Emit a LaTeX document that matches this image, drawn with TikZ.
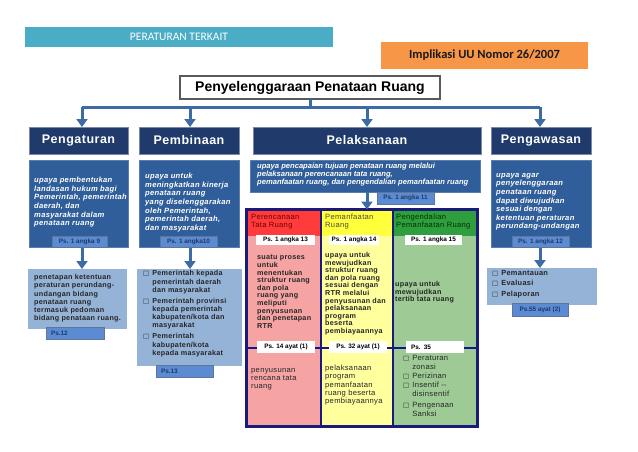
\documentclass[tikz,border=0pt]{standalone}
\usepackage{fontspec}
\setmainfont{Liberation Sans}
\newfontfamily\widefont[LetterSpace=4]{Liberation Sans}
\newfontfamily\calibrifont{Carlito}
\newfontfamily\boxfont{DejaVu Sans}
\usetikzlibrary{arrows.meta,positioning}

\definecolor{navyhead}{HTML}{1F3A6B}
\definecolor{descblue}{HTML}{305E9A}
\definecolor{tagblue}{HTML}{5B8BD2}
\definecolor{lowblue}{HTML}{95B3D7}
\definecolor{arrowblue}{HTML}{3D6BA6}
\definecolor{bannerteal}{HTML}{4BACC6}
\definecolor{orng}{HTML}{F79646}
\definecolor{tblnavy}{HTML}{1A1A7A}
\definecolor{redhead}{HTML}{FF3B3B}
\definecolor{redbody}{HTML}{F5A3A3}
\definecolor{yelhead}{HTML}{FFFF3C}
\definecolor{yelbody}{HTML}{FFFF9E}
\definecolor{grnhead}{HTML}{2F9E3E}
\definecolor{grnbody}{HTML}{9ECB95}

\newcommand{\sqb}{{\boxfont\fontsize{6.5}{6.5}\selectfont □}}

\tikzset{
  plainbox/.style={anchor=north west, inner sep=0pt, outer sep=0pt},
  headbox/.style={plainbox, fill=navyhead, draw=navyhead!60!white, line width=0.6pt, text=white,
    font=\widefont\bfseries\fontsize{12.5}{14}\selectfont, minimum height=27pt},
  descbox/.style={plainbox, fill=descblue, draw=descblue!80!white, line width=0.4pt},
  desctext/.style={anchor=north west, inner sep=0pt, align=left, text=white,
    font=\widefont\bfseries\itshape\fontsize{7.6}{8.6}\selectfont},
  tagbox/.style={plainbox, fill=tagblue, draw=navyhead!70!white, line width=0.4pt, text=navyhead,
    minimum height=11pt, font=\bfseries\fontsize{6.4}{6.5}\selectfont},
  wtag/.style={plainbox, fill=white, text=black, minimum height=10pt,
    font=\bfseries\fontsize{6.4}{6.5}\selectfont},
  lowbox/.style={plainbox, fill=lowblue},
  lowtext/.style={anchor=north west, inner sep=0pt, align=left, text=black!85,
    font=\widefont\bfseries\fontsize{7.2}{8.3}\selectfont},
  celltext/.style={anchor=north west, inner sep=0pt, align=left, font=\widefont\fontsize{7.6}{8.2}\selectfont},
  arr/.style={draw=arrowblue, line width=3pt, -{Triangle[width=11pt,length=8pt]}},
  bus/.style={draw=arrowblue, line width=3pt}
}

\begin{document}
\begin{tikzpicture}[x=1pt,y=-1pt]
\useasboundingbox[fill=white] (0,0) rectangle (638,451);

% title boxes
\node[plainbox, fill=bannerteal, minimum width=308pt, minimum height=20pt, text=white,
  font=\calibrifont\fontsize{11.5}{12}\selectfont] (banner) at (25,27) {PERATURAN TERKAIT};
\node[plainbox, fill=orng, minimum width=207pt, minimum height=27pt, text=black!90,
  font=\calibrifont\bfseries\fontsize{12.5}{14}\selectfont] (uu) at (381,42) {Implikasi UU Nomor 26/2007};
\node[plainbox, fill=white, draw=black!65, line width=1.2pt, minimum width=260pt, minimum height=23pt,
  font=\bfseries\fontsize{14}{16}\selectfont] (main) at (180,76) {Penyelenggaraan Penataan Ruang};

% headers
\node[headbox, minimum width=99pt] (hAtur) at (29,127) {Pengaturan};
\node[headbox, minimum width=100pt] (hBina) at (139,127) {Pembinaan};
\node[headbox, minimum width=228pt] (hLaks) at (253,127) {Pelaksanaan};
\node[headbox, minimum width=100pt] (hAwas) at (491,127) {Pengawasan};

% bus from the main box
\coordinate (hub) at (310,107);
\coordinate (busA) at (82,107);
\coordinate (busB) at (190,107);
\coordinate (busC) at (367,107);
\coordinate (busD) at (540,107);
\draw[bus] (main.south) -- (hub);
\draw[bus] (busA) -- (busD);
\draw[arr] (busA) -- (busA |- hAtur.north);
\draw[arr] (busB) -- (busB |- hBina.north);
\draw[arr] (busC) -- (busC |- hLaks.north);
\draw[arr] (busD) -- (busD |- hAwas.north);

% definitions
\node[descbox, minimum width=99pt, minimum height=87pt] (dAtur) at (29,160) {};
\node[descbox, minimum width=100pt, minimum height=87pt] (dBina) at (139,160) {};
\node[descbox, minimum width=230pt, minimum height=32pt] (dLaks) at (250,160) {};
\node[descbox, minimum width=100pt, minimum height=87pt] (dAwas) at (491,160) {};

\node[desctext] (xAtur) at (34,177) {upaya pembentukan\\landasan hukum bagi\\Pemerintah, pemerintah\\daerah, dan\\masyarakat dalam\\penataan ruang};
\node[desctext] (xBina) at (145,173) {upaya untuk\\meningkatkan kinerja\\penataan ruang\\yang diselenggarakan\\oleh Pemerintah,\\pemerintah daerah,\\dan masyarakat};
\node[desctext, font=\bfseries\itshape\fontsize{7.6}{8.1}\selectfont] (xLaks) at (257,163) {upaya pencapaian tujuan penataan ruang melalui\\pelaksanaan perencanaan tata ruang,\\pemanfaatan ruang, dan pengendalian pemanfaatan ruang};
\node[desctext] (xAwas) at (496,173) {upaya agar\\penyelenggaraan\\penataan ruang\\dapat diwujudkan\\sesuai dengan\\ketentuan peraturan\\perundang-undangan};

% lower boxes
\node[lowbox, minimum width=99pt, minimum height=60pt] (lAtur) at (28,269) {};
\node[lowbox, minimum width=105pt, minimum height=97pt] (lBina) at (137,269) {};
\node[lowbox, minimum width=110pt, minimum height=37pt] (lAwas) at (487,268) {};

\draw[arr] ([xshift=3.5pt]dAtur.south) -- ([xshift=3.5pt]dAtur.south |- lAtur.north);
\draw[arr] ([xshift=1pt]dBina.south) -- ([xshift=1pt]dBina.south |- lBina.north);
\draw[arr] ([xshift=-1pt]dAwas.south) -- ([xshift=-1pt]dAwas.south |- lAwas.north);

\node[lowtext] (yAtur) at (34,274) {penetapan ketentuan\\peraturan perundang-\\undangan bidang\\penataan ruang\\termasuk pedoman\\bidang penataan ruang.};
\node[lowtext, font=\widefont\bfseries\fontsize{7.2}{8.2}\selectfont] (yBina) at (143,270) {%
  \begin{tabular}{@{}l@{\hspace{3pt}}l@{}}
  \sqb & Pemerintah kepada\\
      & pemerintah daerah\\
      & dan masyarakat\\[2.8pt]
  \sqb & Pemerintah provinsi\\
      & kepada pemerintah\\
      & kabupaten/kota dan\\
      & masyarakat\\[2.8pt]
  \sqb & Pemerintah\\
      & kabupaten/kota\\
      & kepada masyarakat
  \end{tabular}};
\node[lowtext, font=\widefont\bfseries\fontsize{7.4}{10.4}\selectfont] (yAwas) at (492,268) {%
  \begin{tabular}{@{}l@{\hspace{3pt}}l@{}}
  \sqb & Pemantauan\\
  \sqb & Evaluasi\\
  \sqb & Pelaporan
  \end{tabular}};

% tags
\node[tagbox, minimum width=55pt] (tAtur) at (52,236) {Ps. 1 angka 9};
\node[tagbox, minimum width=57pt] (tBina) at (160,236) {Ps. 1 angka10};
\node[tagbox, minimum width=57pt] (tAwas) at (512,236) {Ps. 1 angka 12};
\node[tagbox, text width=48pt, inner xsep=5pt, align=left, minimum height=12pt] (tLow1) at (46,327) {Ps.12};
\node[tagbox, text width=47pt, inner xsep=5pt, align=left, minimum height=12pt] (tLow2) at (156,365) {Ps.13};
\node[tagbox, minimum width=56pt, minimum height=13pt] (tLow3) at (512,303) {Ps.55 ayat (2)};

% implementation table
\node[plainbox, fill=redhead, minimum width=74pt, minimum height=26pt] (redH) at (247,210) {};
\node[plainbox, fill=redbody, minimum width=74pt, minimum height=190pt] (redB) at (247,236) {};
\node[plainbox, fill=yelhead, minimum width=72pt, minimum height=26pt] (yelH) at (321,210) {};
\node[plainbox, fill=yelbody, minimum width=72pt, minimum height=190pt] (yelB) at (321,236) {};
\node[plainbox, fill=grnhead, minimum width=84pt, minimum height=26pt] (grnH) at (393,210) {};
\node[plainbox, fill=grnbody, minimum width=84pt, minimum height=190pt] (grnB) at (393,236) {};
\draw[tblnavy, line width=1.6pt] (yelH.north west) -- (yelB.south west);
\draw[tblnavy, line width=1.6pt] (grnH.north west) -- (grnB.south west);
\coordinate (midL) at (247,348);
\coordinate (midR) at (477,348);
\draw[tblnavy!80!blue, line width=1.2pt] (midL) -- (midR);
\node[plainbox, draw=tblnavy, line width=3pt, minimum width=231pt, minimum height=217pt] (tbl) at (246.5,209.5) {};

\draw[arr] ([xshift=2pt]dLaks.south) -- ([xshift=2pt]dLaks.south |- tbl.north);
\node[tagbox, minimum width=57pt, minimum height=12pt] (tLaks) at (377,192) {Ps. 1 angka 11};

\node[celltext, text=red!45!black] (cRed) at (251,214) {Perencanaan\\Tata Ruang};
\node[celltext, text=black!80!yellow] (cYel) at (325,214) {Pemanfaatan\\Ruang};
\node[celltext, text=green!20!black] (cGrn) at (396,214) {Pengendalian\\Pemanfaatan Ruang};

\node[wtag, minimum width=59pt] (w1) at (256,235) {Ps. 1 angka 13};
\node[wtag, minimum width=50pt] (w2) at (329,235) {Ps. 1 angka 14};
\node[wtag, minimum width=57pt] (w3) at (405,235) {Ps. 1 angka 15};

\node[celltext, font=\widefont\bfseries\fontsize{7.2}{7.6}\selectfont, text=black!85] (uRed) at (257,255) {suatu proses\\untuk\\menentukan\\struktur ruang\\dan pola\\ruang yang\\meliputi\\penyusunan\\dan penetapan\\RTR};
\node[celltext, font=\widefont\bfseries\fontsize{7.2}{7.6}\selectfont, text=black!85] (uYel) at (325,252) {upaya untuk\\mewujudkan\\struktur ruang\\dan pola ruang\\sesuai dengan\\RTR melalui\\penyusunan dan\\pelaksanaan\\program\\beserta\\pembiayaannya};
\node[celltext, font=\widefont\bfseries\fontsize{7.2}{7.6}\selectfont, text=black!85] (uGrn) at (395,281) {upaya untuk\\mewujudkan\\tertib tata ruang};

\node[wtag, minimum width=58pt, minimum height=12pt] (w4) at (257,341) {Ps. 14 ayat (1)};
\node[wtag, minimum width=58pt, minimum height=12pt] (w5) at (329,341) {Ps. 32 ayat (1)};
\node[wtag, text width=48pt, inner xsep=5pt, align=left, minimum height=12pt] (w6) at (406,341) {Ps. 35};

\node[celltext, text=black!85] (lRed) at (251,368) {penyusunan\\rencana tata\\ruang};
\node[celltext, text=black!85] (lYel) at (325,365) {pelaksanaan\\program\\pemanfaatan\\ruang beserta\\pembiayaannya};
\node[celltext, text=black!85, font=\widefont\fontsize{7.6}{9}\selectfont] (lGrn) at (403,354) {%
  \begin{tabular}{@{}l@{\hspace{3pt}}l@{}}
  \sqb & Peraturan\\
      & zonasi\\
  \sqb & Perizinan\\
  \sqb & Insentif --\\
      & disinsentif\\[1.5pt]
  \sqb & Pengenaan\\
      & Sanksi
  \end{tabular}};
\end{tikzpicture}
\end{document}
